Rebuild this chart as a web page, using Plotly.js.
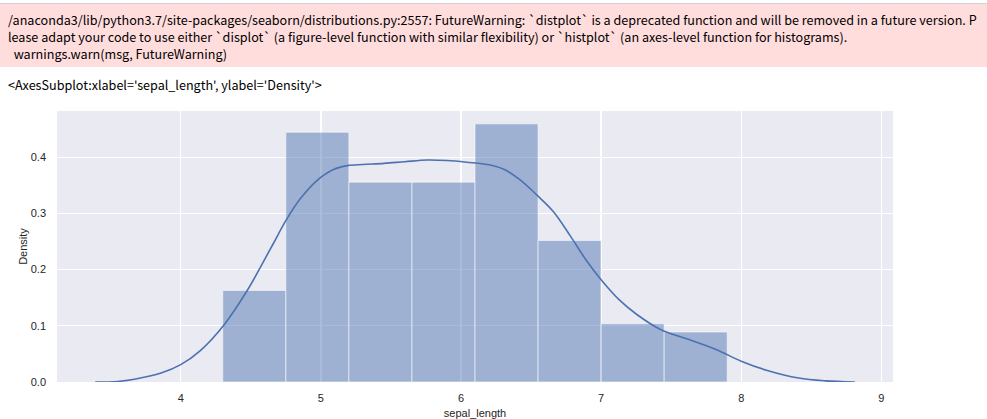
<!DOCTYPE html>
<html>
<head>
<meta charset="utf-8">
<script src="https://cdn.plot.ly/plotly-3.0.1.min.js"></script>
<style>
  html, body { margin: 0; padding: 0; background: #ffffff; width: 987px; height: 419px; overflow: hidden; }
  #chart { position: absolute; left: 0; top: 0; width: 987px; height: 419px; }
  #warn { position: absolute; left: 0; top: 3px; width: 987px; height: 64px; background: #fdd; border-top: 1px solid #cfcfcf;
          box-sizing: border-box; padding: 7px 0 0 8px; font-family: "Noto Sans CJK KR", "Noto Sans", sans-serif;
          font-size: 12.6px; line-height: 17px; color: #000; white-space: pre; z-index: 2; }
  #out { position: absolute; left: 8px; top: 76px; font-family: "Noto Sans CJK KR", "Noto Sans", sans-serif;
         font-size: 12.6px; line-height: 17px; color: #000; white-space: pre; z-index: 2; }
</style>
</head>
<body>
<div id="chart"></div>
<div id="warn"></div>
<div id="out"></div>
<script>
// ---- data ----
const warningLines = [
  "/anaconda3/lib/python3.7/site-packages/seaborn/distributions.py:2557: FutureWarning: `distplot` is a deprecated function and will be removed in a future version. P",
  "lease adapt your code to use either `displot` (a figure-level function with similar flexibility) or `histplot` (an axes-level function for histograms).",
  "  warnings.warn(msg, FutureWarning)"
];
const outputText = "<AxesSubplot:xlabel='sepal_length', ylabel='Density'>";

const binEdges = [4.3, 4.75, 5.2, 5.65, 6.1, 6.55, 7.0, 7.45, 7.9];
const binDensity = [0.1630, 0.4444, 0.3556, 0.3556, 0.4593, 0.2519, 0.1037, 0.0889];

const kdeX = [3.39, 3.55, 3.67, 3.86, 4.00, 4.14, 4.31, 4.48, 4.57, 4.66, 4.75, 4.85, 4.97, 5.09, 5.19, 5.30, 5.45, 5.60, 5.76, 5.90, 6.04, 6.21, 6.31, 6.42, 6.54, 6.66, 6.78, 6.89, 7.00, 7.13, 7.25, 7.42, 7.61, 7.82, 8.00, 8.18, 8.41, 8.60, 8.81];
const kdeY = [0.000, 0.001, 0.005, 0.016, 0.031, 0.056, 0.102, 0.165, 0.205, 0.246, 0.287, 0.325, 0.358, 0.378, 0.385, 0.387, 0.389, 0.392, 0.395, 0.394, 0.391, 0.386, 0.378, 0.360, 0.333, 0.303, 0.260, 0.218, 0.182, 0.146, 0.121, 0.094, 0.077, 0.058, 0.037, 0.021, 0.007, 0.002, 0.000];

const xTicks = [4, 5, 6, 7, 8, 9];
const yTicks = [0.0, 0.1, 0.2, 0.3, 0.4];
const xLabel = "sepal_length";
const yLabel = "Density";

// ---- text blocks ----
document.getElementById('warn').textContent = warningLines.join("\n");
document.getElementById('out').textContent = outputText;

// ---- chart ----
const binCenters = binDensity.map((_, i) => (binEdges[i] + binEdges[i + 1]) / 2);
const binWidths = binDensity.map((_, i) => binEdges[i + 1] - binEdges[i]);

const traces = [
  {
    type: 'bar', x: binCenters, y: binDensity, width: binWidths,
    marker: { color: 'rgba(76,114,176,0.48)', line: { color: 'rgba(255,255,255,0.55)', width: 1 } },
    hoverinfo: 'skip', showlegend: false
  },
  {
    type: 'scatter', mode: 'lines', x: kdeX, y: kdeY,
    line: { color: '#4c72b0', width: 1.6, shape: 'spline', smoothing: 1 },
    hoverinfo: 'skip', showlegend: false
  }
];

const axisFont = { family: 'Liberation Sans, Arial, sans-serif', size: 11, color: '#262626' };
const layout = {
  width: 987, height: 419,
  margin: { l: 57, r: 94, t: 111, b: 37, pad: 0 },
  paper_bgcolor: 'rgba(0,0,0,0)',
  plot_bgcolor: '#eaeaf2',
  bargap: 0,
  xaxis: {
    range: [3.117, 9.083], tickvals: xTicks, ticktext: xTicks.map(String),
    showgrid: true, gridcolor: '#ffffff', gridwidth: 1.3, zeroline: false, showline: false,
    ticks: '', ticklen: 0, tickfont: axisFont, ticklabelstandoff: 8,
    title: { text: xLabel, font: axisFont, standoff: 6 }
  },
  yaxis: {
    range: [0, 0.4822], tickvals: yTicks, ticktext: yTicks.map(v => v.toFixed(1)),
    showgrid: true, gridcolor: '#ffffff', gridwidth: 1.3, zeroline: false, showline: false,
    ticks: '', ticklen: 0, tickfont: axisFont, ticklabelstandoff: 10,
    title: { text: yLabel, font: axisFont, standoff: 0 }
  },
  font: axisFont
};

Plotly.newPlot('chart', traces, layout, { staticPlot: true, displayModeBar: false });
</script>
</body>
</html>
